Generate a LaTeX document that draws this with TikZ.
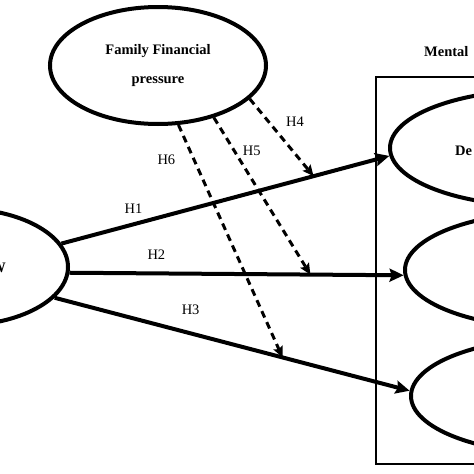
\documentclass[tikz,border=0pt]{standalone}
\usepackage{fontspec}
\setmainfont{Liberation Serif}
\usetikzlibrary{shapes.geometric, arrows.meta, positioning}
\tikzset{
  constructo/.style={ellipse, draw=black, line width=4pt, inner sep=0pt, minimum width=216pt,
                     minimum height=117pt, align=center, font=\fontsize{14.5}{28.5}\selectfont\bfseries},
  resultado/.style={ellipse, draw=black, line width=4pt, inner sep=0pt, minimum width=300pt, minimum height=116pt},
  titulo/.style={font=\fontsize{14.5}{17}\selectfont\bfseries, inner sep=0pt},
  hip/.style={font=\fontsize{14.5}{17}\selectfont},
  arrow/.style={line width=4pt, -{Stealth[length=14pt, width=13pt, inset=2pt]}},
  darrow/.style={line width=3pt, dash pattern=on 7pt off 5pt, -{Stealth[length=11pt, width=10pt, inset=2pt]}},
  marco/.style={draw=black, line width=1.5pt}
}
\begin{document}
\begin{tikzpicture}[x=1pt, y=-1pt]
  \useasboundingbox (0,0) rectangle (474,474);
  \clip (0,0) rectangle (474,474);
  \fill [white] (0,0) rectangle (474,474);
  % bloque de salud mental
  \draw [marco] (376,77) rectangle (520,464);
  \node [titulo, anchor=base west] (mental) at (424,56) {Mental};
  % constructos
  \node (presion) [constructo] at (158,65.5) {Family Financial\\pressure};
  \node (indep) [constructo] at (-40,267) {};
  \node [titulo, anchor=base east] (w) at (6,272) {W};
  \node (dep) [resultado] at (540,148) {};
  \node [titulo, anchor=base west] (de) at (455,155) {De};
  \node (med) [resultado] at (555,270) {};
  \node (baj) [resultado] at (561,396) {};
  % efectos directos
  \draw [arrow] (indep.13.5) -- (dep.183.4) coordinate[pos=0.769] (m4) node[hip, pos=0.22, above=5pt] (h1) {H1};
  \draw [arrow] (indep.-3) -- (med.182.7) coordinate[pos=0.721] (m5) node[hip, pos=0.26, above=9pt] (h2) {H2};
  \draw [arrow] (indep.-18.4) -- (baj.178.5) coordinate[pos=0.642] (m6) node[hip, pos=0.383, above=13pt] (h3) {H3};
  % moderacion
  \draw [darrow] (presion.-20.6) -- (m4) node[hip, pos=0.29, right=13pt] (h4) {H4};
  \draw [darrow] (presion.-43.1) -- (m5) node[hip, pos=0.21, right=4pt] (h5) {H5};
  \draw [darrow] (presion.-71.4) -- (m6) node[hip, pos=0.15, left=14pt] (h6) {H6};
\end{tikzpicture}
\end{document}
